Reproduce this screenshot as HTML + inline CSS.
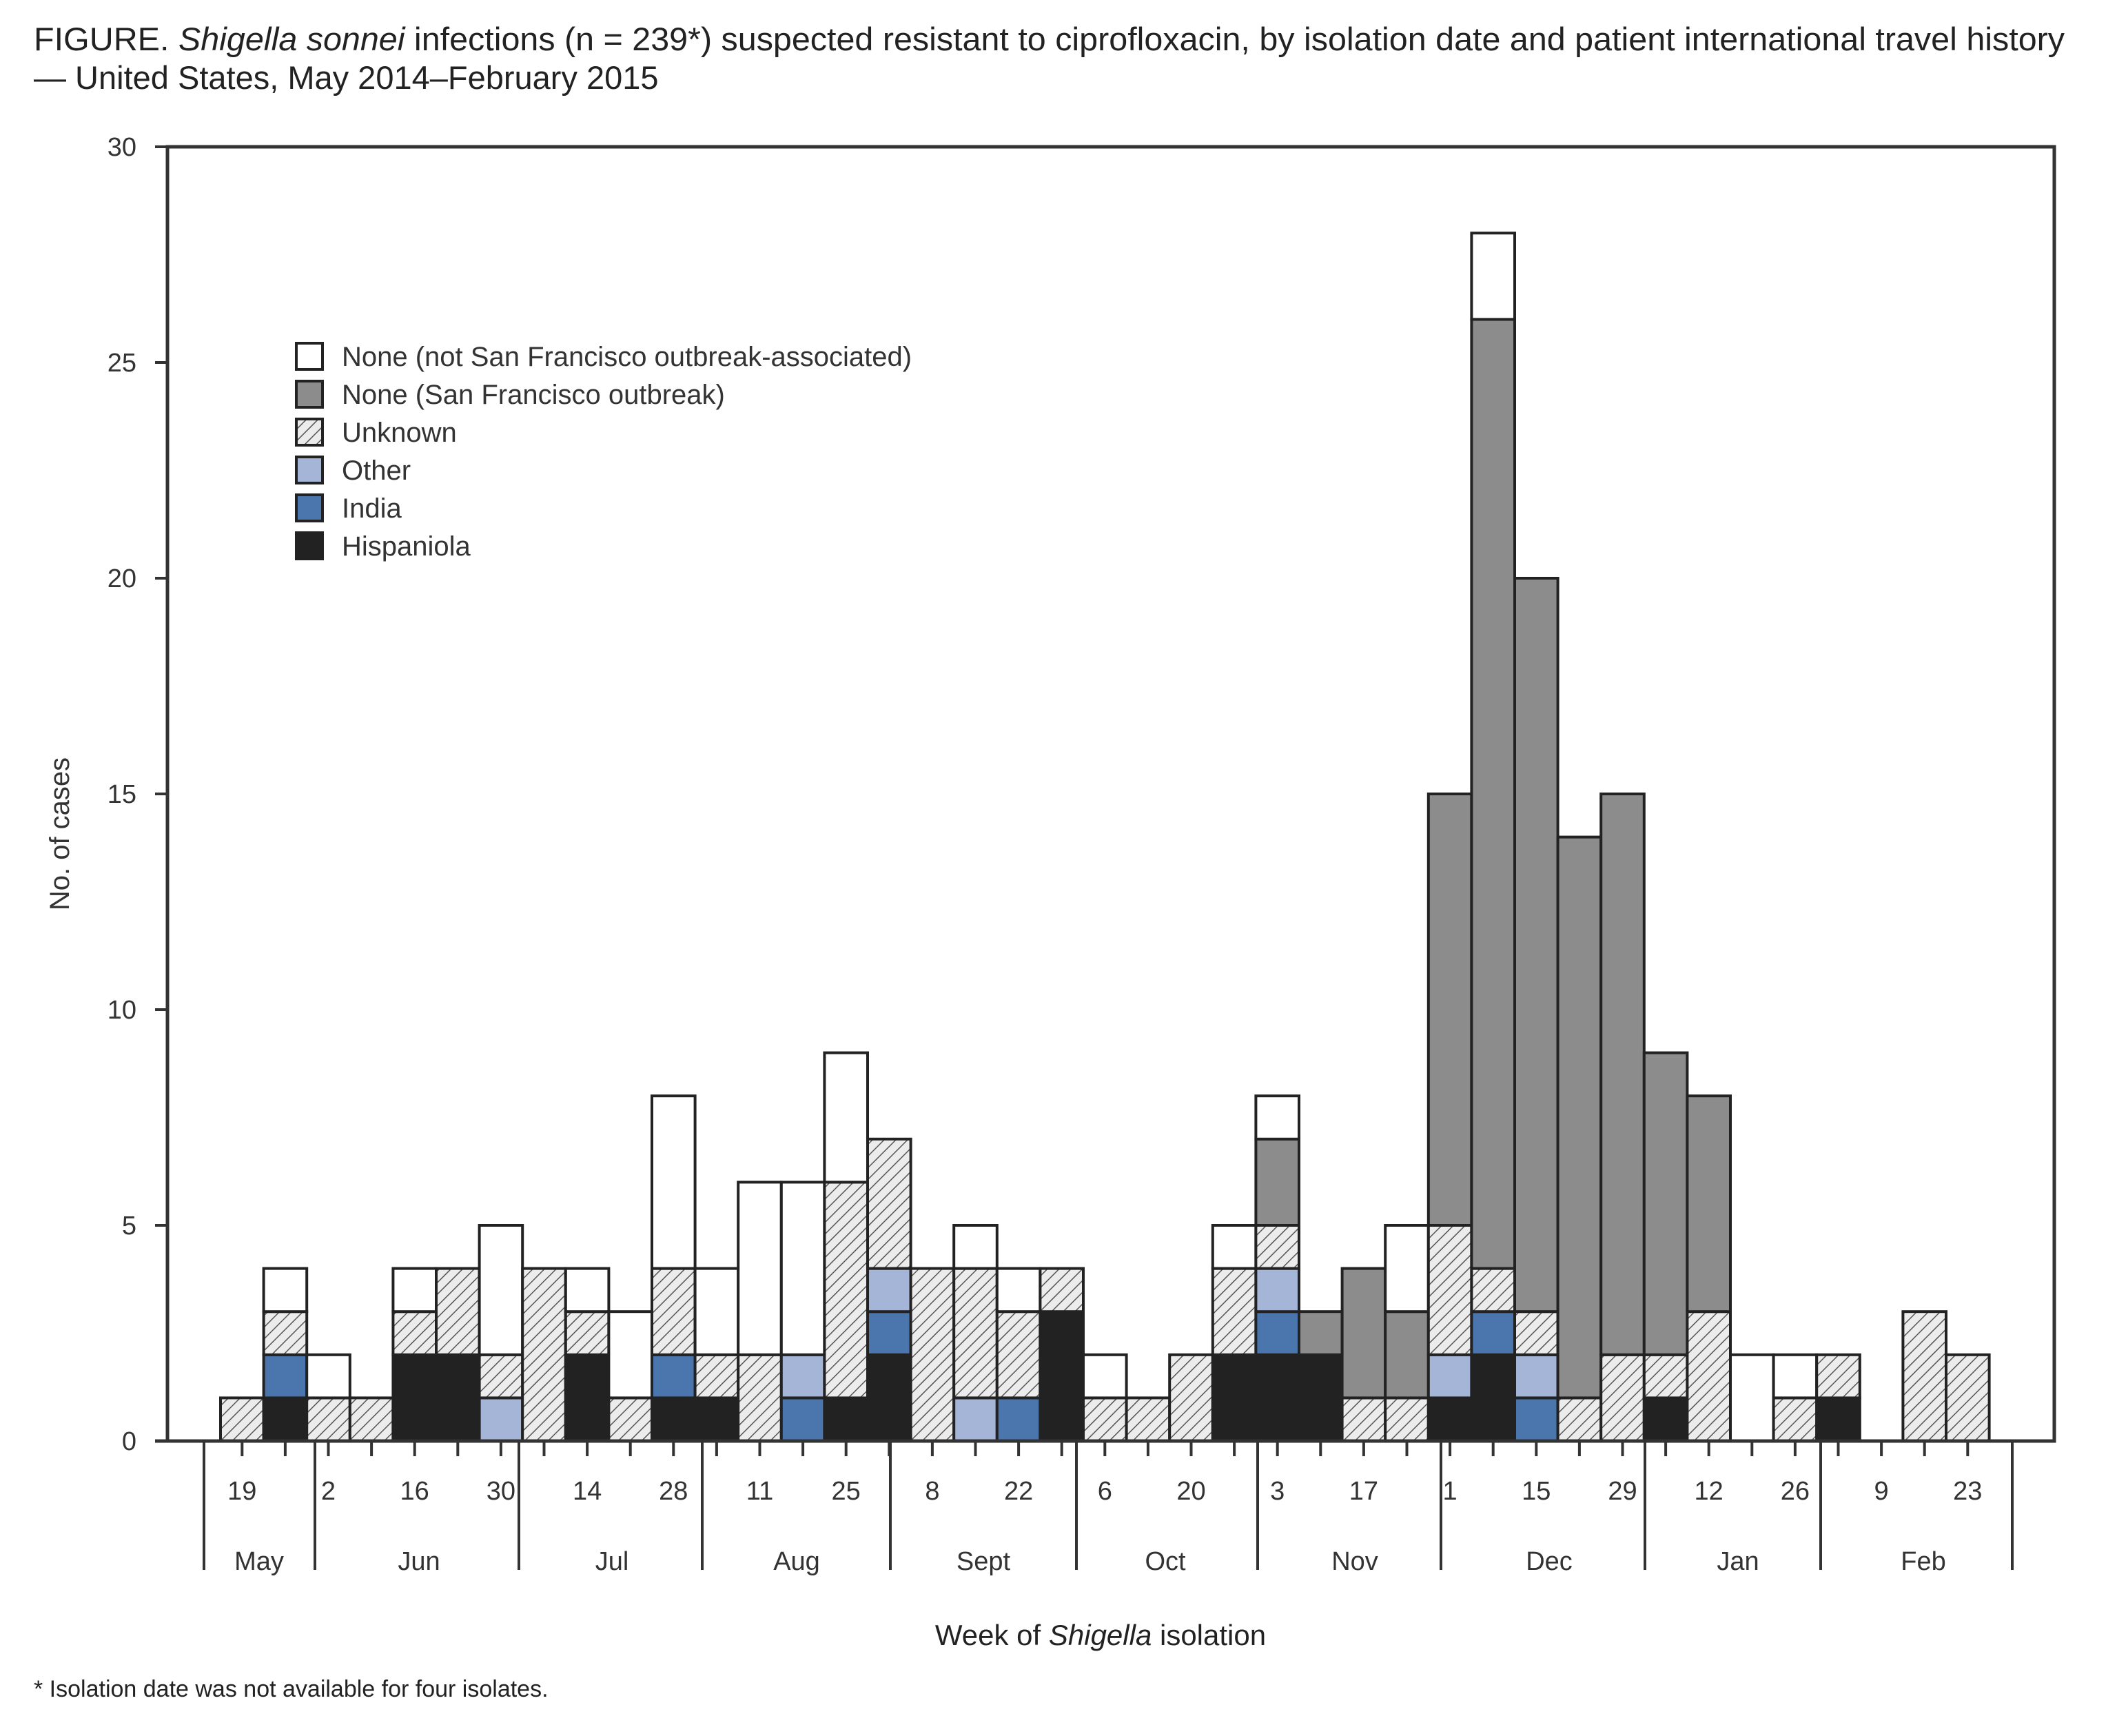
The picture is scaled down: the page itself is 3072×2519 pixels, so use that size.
<!DOCTYPE html>
<html><head><meta charset="utf-8"><style>
html,body{margin:0;padding:0;background:#fff;}
svg{display:block;font-family:"Liberation Sans",sans-serif;}
</style></head><body>
<svg id="s" width="3072" height="2519" viewBox="0 0 3072 2519" xmlns="http://www.w3.org/2000/svg">
<defs>
<pattern id="h" patternUnits="userSpaceOnUse" width="12" height="12" patternTransform="rotate(45)">
<rect width="12" height="12" fill="#ececec"/><line x1="0" y1="0" x2="0" y2="12" stroke="#555" stroke-width="3"/>
</pattern>
</defs>
<text x="49" y="73" font-size="47" fill="#222" textLength="2947" lengthAdjust="spacingAndGlyphs">FIGURE. <tspan font-style="italic">Shigella sonnei</tspan> infections (n = 239*) suspected resistant to ciprofloxacin, by isolation date and patient international travel history</text>
<text x="49" y="129" font-size="47" fill="#222">— United States, May 2014–February 2015</text>
<g id="bars"></g>
<rect x="243" y="213" width="2738" height="1878" fill="none" stroke="#333" stroke-width="5"/>
<line x1="225" y1="2091" x2="2981" y2="2091" stroke="#333" stroke-width="5"/>
<g id="ax" stroke="#333" stroke-width="4"></g>
<g id="lab" font-size="38" fill="#333"></g>
<text transform="translate(100,1210) rotate(-90)" text-anchor="middle" font-size="40" fill="#333">No. of cases</text>
<text x="1597" y="2387" text-anchor="middle" font-size="42" fill="#222">Week of <tspan font-style="italic">Shigella</tspan> isolation</text>
<text x="49" y="2462" font-size="34" fill="#222">* Isolation date was not available for four isolates.</text>
<g font-size="40" fill="#333">
<rect x="430" y="498" width="38" height="38" fill="#fff" stroke="#222" stroke-width="4"/><text x="496" y="531">None (not San Francisco outbreak-associated)</text>
<rect x="430" y="553" width="38" height="38" fill="#8c8c8c" stroke="#222" stroke-width="4"/><text x="496" y="586">None (San Francisco outbreak)</text>
<rect x="430" y="608" width="38" height="38" fill="url(#h)" stroke="#222" stroke-width="4"/><text x="496" y="641">Unknown</text>
<rect x="430" y="663" width="38" height="38" fill="#a5b5d8" stroke="#222" stroke-width="4"/><text x="496" y="696">Other</text>
<rect x="430" y="718" width="38" height="38" fill="#4a76ad" stroke="#222" stroke-width="4"/><text x="496" y="751">India</text>
<rect x="430" y="773" width="38" height="38" fill="#222" stroke="#222" stroke-width="4"/><text x="496" y="806">Hispaniola</text>
</g>
</svg>
<script>
var NS="http://www.w3.org/2000/svg";
function el(t,a,p,txt){var e=document.createElementNS(NS,t);for(var k in a)e.setAttribute(k,a[k]);if(txt!=null)e.textContent=txt;p.appendChild(e);return e;}
var d=[[0,0,0,1,0,0],[1,1,0,1,0,1],[0,0,0,1,0,1],[0,0,0,1,0,0],[2,0,0,1,0,1],[2,0,0,2,0,0],[0,0,1,1,0,3],[0,0,0,4,0,0],[2,0,0,1,0,1],[0,0,0,1,0,2],
[1,1,0,2,0,4],[1,0,0,1,0,2],[0,0,0,2,0,4],[0,1,1,0,0,4],[1,0,0,5,0,3],[2,1,1,3,0,0],[0,0,0,4,0,0],[0,0,1,3,0,1],[0,1,0,2,0,1],[3,0,0,1,0,0],
[0,0,0,1,0,1],[0,0,0,1,0,0],[0,0,0,2,0,0],[2,0,0,2,0,1],[2,1,1,1,2,1],[2,0,0,0,1,0],[0,0,0,1,3,0],[0,0,0,1,2,2],[1,0,1,3,10,0],[2,1,0,1,22,2],
[0,1,1,1,17,0],[0,0,0,1,13,0],[0,0,0,2,13,0],[1,0,0,1,7,0],[0,0,0,3,5,0],[0,0,0,0,0,2],[0,0,0,1,0,1],[1,0,0,1,0,0],[0,0,0,0,0,0],[0,0,0,3,0,0],[0,0,0,2,0,0]];
var col=["#222","#4a76ad","#a5b5d8","url(#h)","#8c8c8c","#fff"];
var g=document.getElementById("bars"),ax=document.getElementById("ax"),lab=document.getElementById("lab");
var x0=320,w=62.6,y0=2091,u=62.6;
d.forEach(function(b,i){var y=y0;var x=x0+w*i;
 b.forEach(function(v,j){if(!v)return;var h=v*u;y-=h;el("rect",{x:x,y:y,width:w,height:h,fill:col[j],stroke:"#222","stroke-width":4},g);});
 el("line",{x1:x+w/2,y1:y0,x2:x+w/2,y2:y0+22},ax);
});
[0,5,10,15,20,25,30].forEach(function(v){var y=y0-v*u;el("line",{x1:225,y1:y,x2:243,y2:y},ax);el("text",{x:198,y:y+13,"text-anchor":"end"},lab,String(v));});
[296,457,753,1019,1292,1562,1825,2091,2387,2642,2920].forEach(function(x){el("line",{x1:x,y1:y0,x2:x,y2:2278},ax);});
var dl=["19","2","16","30","14","28","11","25","8","22","6","20","3","17","1","15","29","12","26","9","23"];
dl.forEach(function(t,k){var i=k*2;el("text",{x:x0+w*i+w/2,y:2176,"text-anchor":"middle"},lab,t);});
var ml=[["May",376],["Jun",608],["Jul",888],["Aug",1156],["Sept",1427],["Oct",1691],["Nov",1966],["Dec",2248],["Jan",2522],["Feb",2791]];
ml.forEach(function(m){el("text",{x:m[1],y:2278,"text-anchor":"middle"},lab,m[0]);});
</script>
</body></html>
